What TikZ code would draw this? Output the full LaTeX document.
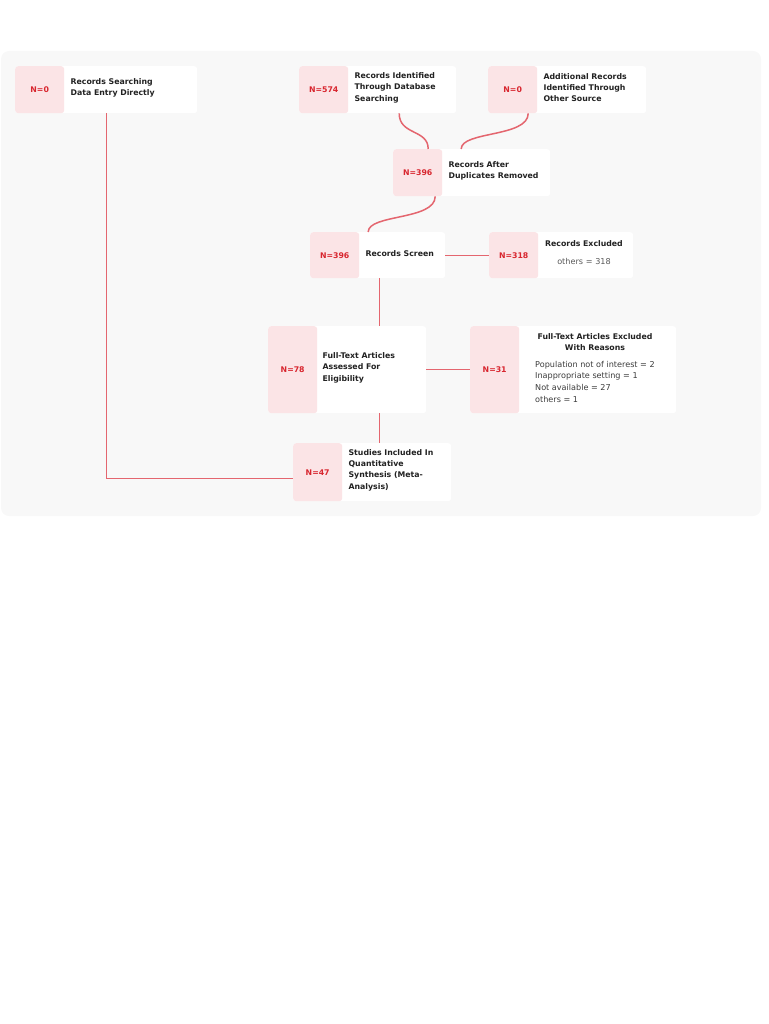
\documentclass[tikz,border=0pt]{standalone}
\usepackage{fontspec}
\setmainfont{DejaVu Sans}
\usetikzlibrary{positioning,calc}
\definecolor{panelGray}{HTML}{F8F8F8}
\definecolor{softPink}{HTML}{FBE4E6}
\definecolor{lineRed}{HTML}{E4666F}
\definecolor{numRed}{HTML}{D8262F}
\definecolor{titleInk}{HTML}{222222}
\definecolor{bodyInk}{HTML}{3C3C3C}

\tikzset{
  card/.style={fill=white, rounded corners=3pt, anchor=north west, inner sep=0pt},
  countcell/.style={fill=softPink, rounded corners=3pt, anchor=north west, inner sep=0pt,
    minimum width=49pt, text=numRed, font=\fontsize{7.8}{9}\selectfont\bfseries},
  caption/.style={align=left, inner sep=0pt, text=titleInk,
    font=\fontsize{7.8}{11.2}\selectfont\bfseries},
  bodytext/.style={align=left, inner sep=0pt, text=bodyInk,
    font=\fontsize{8.1}{11.6}\selectfont},
  link/.style={draw=lineRed, line width=1.5pt},
}

\begin{document}
\begin{tikzpicture}[x=1pt, y=-1pt]
    \useasboundingbox (0,0) rectangle (768,1024);
    \fill[panelGray, rounded corners=8pt] (1,51) rectangle (761,516);

    % top row
    \node[card, minimum width=182pt, minimum height=47pt] (b1) at (15,66) {};
    \node[countcell, minimum height=47pt] (n1) at (b1.north west) {N=0};
    \node[caption, right=6pt of n1, yshift=2pt] (t1) {Records Searching\\Data Entry Directly};

    \node[card, minimum width=157pt, minimum height=47pt] (b2) at (299,66) {};
    \node[countcell, minimum height=47pt] (n2) at (b2.north west) {N=574};
    \node[caption, right=6pt of n2, yshift=2pt] (t2) {Records Identified\\Through Database\\Searching};

    \node[card, minimum width=158pt, minimum height=47pt] (b3) at (488,66) {};
    \node[countcell, minimum height=47pt] (n3) at (b3.north west) {N=0};
    \node[caption, right=6pt of n3, yshift=2pt] (t3) {Additional Records\\Identified Through\\Other Source};

    % duplicates and screening
    \node[card, minimum width=157pt, minimum height=47pt] (b4) at (393,149) {};
    \node[countcell, minimum height=47pt] (n4) at (b4.north west) {N=396};
    \node[caption, right=6pt of n4, yshift=2pt] (t4) {Records After\\Duplicates Removed};

    \node[card, minimum width=135pt, minimum height=46pt] (b5) at (310,232) {};
    \node[countcell, minimum height=46pt] (n5) at (b5.north west) {N=396};
    \node[caption, right=6pt of n5, yshift=2pt] (t5) {Records Screen};

    \node[card, minimum width=144pt, minimum height=46pt] (b6) at (489,232) {};
    \node[countcell, minimum height=46pt] (n6) at (b6.north west) {N=318};
    \node[caption, align=center, text width=94pt] (t6) at (584,244) {Records Excluded};
    \node[bodytext, text=bodyInk!85, align=center, text width=94pt] (s6) at (584,261) {others = 318};

    % eligibility
    \node[card, minimum width=158pt, minimum height=87pt] (b7) at (268,326) {};
    \node[countcell, minimum height=87pt] (n7) at (b7.north west) {N=78};
    \node[caption, right=5pt of n7, yshift=2pt] (t7) {Full-Text Articles\\Assessed For\\Eligibility};

    \node[card, minimum width=206pt, minimum height=87pt] (b8) at (470,326) {};
    \node[countcell, minimum height=87pt] (n8) at (b8.north west) {N=31};
    \node[caption, align=center, font=\fontsize{7.8}{10.4}\selectfont\bfseries] (t8) at (595,342) {Full-Text Articles Excluded\\With Reasons};
    \node[bodytext, anchor=north west] (s8) at (535,361) {Population not of interest = 2\\Inappropriate setting = 1\\Not available = 27\\others = 1};

    % included
    \node[card, minimum width=158pt, minimum height=58pt] (b9) at (293,443) {};
    \node[countcell, minimum height=58pt] (n9) at (b9.north west) {N=47};
    \node[caption, right=6pt of n9, yshift=2pt] (t9) {Studies Included In\\Quantitative\\Synthesis (Meta-\\Analysis)};

    % connectors
    \draw[link] ([xshift=21.5pt]b2.south) .. controls +(0,22) and +(0,-20) .. ([xshift=-43.5pt]b4.north);
    \draw[link] ([xshift=-39pt]b3.south) .. controls +(0,24) and +(0,-18) .. ([xshift=-10.5pt]b4.north);
    \draw[link] ([xshift=-36.5pt]b4.south) .. controls +(0,24) and +(0,-18) .. ([xshift=-9.5pt]b5.north);
    \draw[link] ([xshift=2pt]b5.south) -- ([xshift=32.5pt]b7.north);
    \draw[link] ([yshift=-0.5pt]b5.east) -- ([yshift=-0.5pt]b6.west);
    \draw[link] (b7.east) -- (b8.west);
    \draw[link] ([xshift=32.5pt]b7.south) -- ([xshift=7.5pt]b9.north);
    \draw[link] ([xshift=0.5pt]b1.south) |- ([yshift=-6.5pt]b9.west);
\end{tikzpicture}
\end{document}
